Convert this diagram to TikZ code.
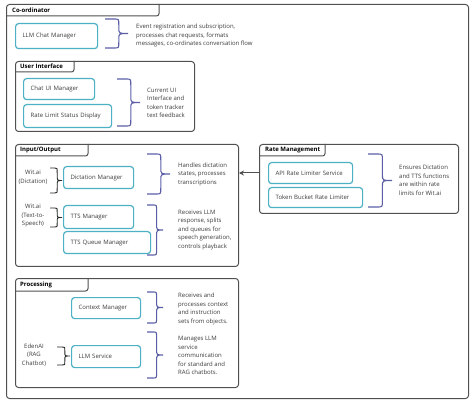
\documentclass[tikz,border=0pt]{standalone}
\usepackage{fontspec}
\setmainfont{Open Sans}
\usetikzlibrary{arrows.meta}
\definecolor{teal1}{RGB}{78,176,196}
\definecolor{brc}{RGB}{92,94,166}
\definecolor{frm}{RGB}{80,80,80}
\definecolor{txt}{RGB}{60,60,60}
\tikzset{
 frame/.style={draw=frm, line width=1pt, rounded corners=3pt, anchor=north west, inner sep=0pt, fill=white},
 tab/.style={draw=frm, line width=1pt, rounded corners=2.5pt},
 ttl/.style={anchor=west, font=\fontsize{6}{7}\selectfont\bfseries, text=black, inner sep=0pt},
 comp/.style={draw=teal1, line width=1.2pt, rounded corners=3pt, anchor=north west, inner xsep=7pt, inner ysep=0pt, align=left, font=\fontsize{6}{7}\selectfont, text=txt, fill=white},
 desc/.style={anchor=west, align=left, inner sep=0pt, font=\fontsize{6}{8.5}\selectfont, text=txt},
 ext/.style={align=center, inner sep=0pt, font=\fontsize{6}{8.5}\selectfont, text=txt},
 pbrace/.style={draw=brc, line width=1.1pt},
 kbrace/.style={draw=black!85, line width=0.9pt},
 arr/.style={draw=frm, line width=1pt, -{Stealth[length=5pt,width=5pt]}}
}
\newcommand\mycurly[5]{%
 \pgfmathsetmacro\cxa{#2+0.40*(#3-#2)}%
 \pgfmathsetmacro\cxb{#2+0.60*(#3-#2)}%
 \pgfmathsetmacro\cym{(#4+#5)/2}%
 \pgfmathsetmacro\crr{min(6,0.2*(#5-#4))}%
 \draw[#1] (#2,#4) -- (\cxa,#4) .. controls (\cxb,#4) .. (\cxb,#4+\crr) -- (\cxb,\cym-\crr) .. controls (\cxb,\cym) .. (#3,\cym) .. controls (\cxb,\cym) .. (\cxb,\cym+\crr) -- (\cxb,#5-\crr) .. controls (\cxb,#5) .. (\cxa,#5) -- (#2,#5);%
}
\begin{document}
\begin{tikzpicture}[x=1pt,y=-1pt]
\useasboundingbox (0,0) rectangle (474,406);
% outer frame
\node[frame, minimum width=462pt, minimum height=394pt] (co) at (6,4) {};
\draw[tab] (6,16) -| (159,4);
\node[ttl] (cot) at (12,10.5) {Co-ordinator};
% user interface frame
\node[frame, minimum width=179pt, minimum height=70pt] (ui) at (15,61) {};
\draw[tab] (15,72) -| (74,61);
\node[ttl] (uit) at (20,66.5) {User Interface};
% input/output frame
\node[frame, minimum width=223pt, minimum height=122pt] (io) at (15,144) {};
\draw[tab] (15,156) -| (88,144);
\node[ttl] (iot) at (20,150) {Input/Output};
% processing frame
\node[frame, minimum width=223pt, minimum height=109pt] (proc) at (15,278) {};
\draw[tab] (15,291) -| (88,278);
\node[ttl] (proct) at (20,284.5) {Processing};
% rate management frame
\node[frame, minimum width=199pt, minimum height=69pt] (rate) at (259,144) {};
\draw[tab] (259,156) -| (325,144);
\node[ttl] (ratet) at (265,150) {Rate Management};
% components
\node[comp, text width=68pt, minimum height=25pt] (llmchat) at (15,23) {LLM Chat Manager};
\node[comp, text width=57pt, minimum height=21pt] (chatui) at (23,78) {Chat UI Manager};
\node[comp, text width=74pt, minimum height=23pt] (rld) at (23,104) {Rate Limit Status Display};
\node[comp, text width=56pt, minimum height=22pt] (dict) at (63,166) {Dictation Manager};
\node[comp, text width=56pt, minimum height=23pt] (tts) at (63,205) {TTS Manager};
\node[comp, text width=73pt, minimum height=22pt] (ttsq) at (63,231) {TTS Queue Manager};
\node[comp, text width=55pt, minimum height=21pt] (ctx) at (71,297) {Context Manager};
\node[comp, text width=55pt, minimum height=22pt] (llmsvc) at (71,345) {LLM Service};
\node[comp, text width=70pt, minimum height=21pt] (api) at (268,162) {API Rate Limiter Service};
\node[comp, text width=80pt, minimum height=20pt] (token) at (268,187) {Token Bucket Rate Limiter};
% purple braces
\mycurly{pbrace}{105}{128}{19}{48}
\mycurly{pbrace}{117}{140}{79}{126}
\mycurly{pbrace}{147}{170}{154}{194}
\mycurly{pbrace}{147}{163}{205}{255}
\mycurly{pbrace}{147}{163}{292}{323}
\mycurly{pbrace}{147}{163}{332}{378}
\mycurly{pbrace}{368}{392}{154}{207}
% black braces
\mycurly{kbrace}{50}{62}{168}{193}
\mycurly{kbrace}{50}{62}{208}{227}
\mycurly{kbrace}{57}{70}{347}{365}
% descriptions
\node[desc] (d1) at (136,35.5) {Event registration and subscription,\\processes chat requests, formats\\messages, co-ordinates conversation flow};
\node[desc] (d2) at (147,103) {Current UI\\Interface and\\token tracker\\text feedback};
\node[desc] (d3) at (178,174) {Handles dictation\\states, processes\\transcriptions};
\node[desc] (d4) at (178,230) {Receives LLM\\response, splits\\and queues for\\speech generation,\\controls playback};
\node[desc] (d5) at (178,309) {Receives and\\processes context\\and instruction\\sets from objects.};
\node[desc] (d6) at (178,355.5) {Manages LLM\\service\\communication\\for standard and\\RAG chatbots.};
\node[desc] (d7) at (399,180.5) {Ensures Dictation\\and TTS functions\\are within rate\\limits for Wit.ai};
% external services
\node[ext] (w1) at (33,177.5) {Wit.ai\\(Dictation)};
\node[ext] (w2) at (33,216) {Wit.ai\\(Text-to-\\Speech)};
\node[ext] (e1) at (34,355) {EdenAI\\(RAG\\Chatbot)};
% arrow
\coordinate (ay) at (0,173);
\draw[arr] (rate.west |- ay) -- (io.east |- ay);
\end{tikzpicture}
\end{document}
